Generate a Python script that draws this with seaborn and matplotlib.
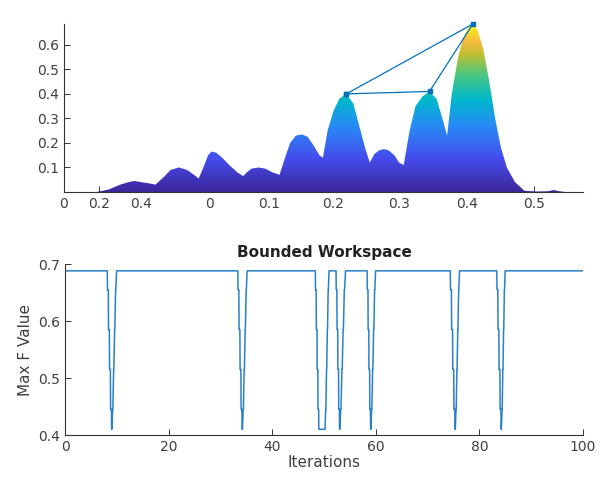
import numpy as np
import matplotlib
matplotlib.use("Agg")
import matplotlib.pyplot as plt
import seaborn as sns
from matplotlib.colors import LinearSegmentedColormap
from matplotlib.patches import Polygon

sns.set_theme(style="white")
plt.rcParams['font.family'] = ['DejaVu Sans']

# ---- top panel: surface profile seen from the side ----
prof_x = [80,90,100,107,112,118,125,130,137,143,150,157,163,167,171,175,178,182,187,193,200,205,
          208,212,218,224,230,236,240,245,250,255,260,265,270,273,277,282,287,293,299,304,309,313,
          317,321,325,329,334,338,342,347,352,358,364,370,375,379,383,388,392,397,401,405,410,415,
          420,425,430,437,445,455,465,470,475,480]
prof_z = [0,0.01,0.03,0.04,0.045,0.04,0.035,0.03,0.06,0.09,0.10,0.09,0.07,0.055,0.10,0.15,0.165,0.16,
          0.14,0.11,0.08,0.065,0.08,0.095,0.10,0.095,0.08,0.07,0.13,0.20,0.23,0.235,0.225,0.19,0.15,0.14,
          0.25,0.33,0.38,0.40,0.36,0.27,0.18,0.12,0.155,0.17,0.175,0.17,0.15,0.12,0.11,0.25,0.35,0.39,
          0.41,0.38,0.30,0.23,0.40,0.54,0.62,0.67,0.685,0.66,0.58,0.45,0.30,0.18,0.10,0.04,0.005,0.002,
          0.003,0.008,0.003,0]
tri_x = [293, 364, 401, 293]
tri_z = [0.40, 0.41, 0.685, 0.40]
top_tick_pos = [52, 82, 118, 176, 227, 282, 338, 396, 453]
top_tick_lab = ["0", "0.2", "0.4", "0", "0.1", "0.2", "0.3", "0.4", "0.5"]

# ---- bottom panel ----
levels = [0.688, 0.655, 0.585, 0.515, 0.445, 0.41]
# (start, bottom start, bottom end, end) of each dip
dips = [(8.0, 9.0, 9.05, 10.0), (33.2, 34.2, 34.25, 35.2), (48.2, 49.0, 50.2, 51.0),
        (52.2, 53.0, 53.05, 54.2), (58.2, 59.0, 59.05, 60.0), (74.2, 75.3, 75.35, 76.2),
        (83.2, 84.2, 84.25, 85.0)]

it, mf = [0.0], [levels[0]]
n = len(levels) - 1
for s, b0, b1, e in dips:
    for k in range(n + 1):
        it += [s + (b0 - s) * k / n]; mf += [levels[k]]
        if k < n:
            it += [s + (b0 - s) * (k + 0.8) / n]; mf += [levels[k]]
    it += [b1]; mf += [levels[-1]]
    for k in range(n - 1, -1, -1):
        xk = b1 + (e - b1) * (n - k) / n
        it += [xk - (e - b1) * 0.2 / n]; mf += [levels[k]]
        it += [xk]; mf += [levels[k]]
it += [100.0]; mf += [levels[0]]

W, H = 616, 486
fig = plt.figure(figsize=(W/100, H/100), dpi=100)
ax1 = fig.add_axes([64/W, 1-192/H, 519/W, 168/H])
ax2 = fig.add_axes([65/W, 1-435/H, 518/W, 171/H])

parula = LinearSegmentedColormap.from_list("parula", [
    (0.0, (0.24, 0.15, 0.60)), (0.2, (0.27, 0.30, 0.93)), (0.4, (0.15, 0.55, 0.96)),
    (0.55, (0.0, 0.72, 0.80)), (0.7, (0.30, 0.78, 0.50)), (0.82, (0.75, 0.75, 0.20)),
    (0.9, (0.98, 0.73, 0.25)), (1.0, (0.98, 0.98, 0.08))])

ymax = 0.685
ax1.set_xlim(55, 495)
ax1.set_ylim(0, ymax)
grad = np.linspace(0, 1, 256).reshape(-1, 1)
im = ax1.imshow(grad, cmap=parula, origin="lower", aspect="auto",
                extent=[55, 495, 0, 0.685], vmin=0, vmax=1, zorder=2)
poly = Polygon(list(zip(prof_x, prof_z)), closed=True, transform=ax1.transData)
im.set_clip_path(poly)
ax1.plot(tri_x, tri_z, color="#0072BD", lw=0.9, marker="s", ms=2.5, zorder=3, clip_on=False)
ax1.set_yticks([0.1, 0.2, 0.3, 0.4, 0.5, 0.6])
ax1.set_xticks(top_tick_pos)
ax1.set_xticklabels(top_tick_lab)
for sp in ["top", "right"]:
    ax1.spines[sp].set_visible(False)

ax2.plot(it, mf, color="#2a80c8", lw=1.1)
ax2.set_xlim(0, 100)
ax2.set_ylim(0.4, 0.7)
ax2.set_xticks([0, 20, 40, 60, 80, 100])
ax2.set_yticks([0.4, 0.5, 0.6, 0.7])
ax2.set_title("Bounded Workspace", fontsize=11, fontweight="bold", color="#222222", pad=5)
ax2.set_xlabel("Iterations", fontsize=11, color="#404040", labelpad=1)
ax2.set_ylabel("Max F Value", fontsize=11, color="#404040")
for sp in ["top", "right"]:
    ax2.spines[sp].set_visible(False)

for ax in (ax1, ax2):
    for sp in ["left", "bottom"]:
        ax.spines[sp].set_color("#333333")
        ax.spines[sp].set_linewidth(0.8)
    ax.tick_params(direction="in", length=4, width=0.7, colors="#333333",
                   labelcolor="#404040", labelsize=10, bottom=True, left=True)

fig.savefig("out.png", dpi=100, facecolor="white")
